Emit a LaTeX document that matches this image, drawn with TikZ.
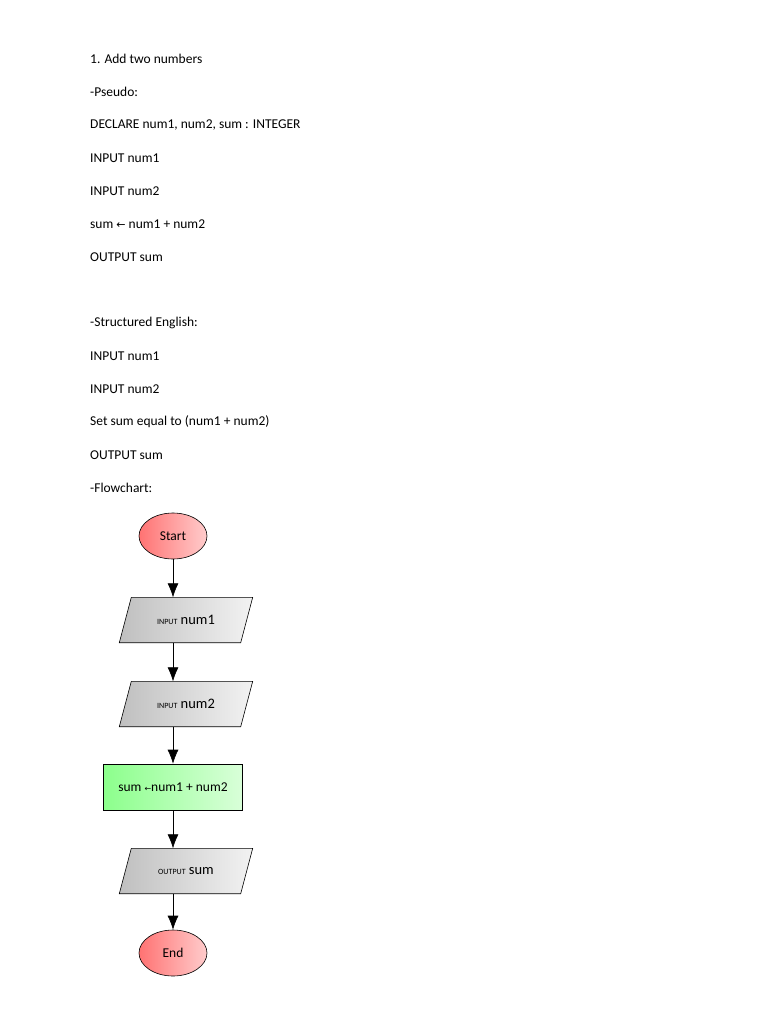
\documentclass[tikz,border=0pt]{standalone}
\usepackage{fontspec}
\setmainfont{Carlito}
\newfontfamily\symfont{DejaVu Sans}
\usetikzlibrary{shapes.geometric,positioning,arrows.meta}
\tikzset{
  line/.style={anchor=west,inner sep=0pt,font=\fontsize{13.5}{15}\selectfont},
  term/.style={ellipse,draw=black,semithick,minimum width=68,minimum height=46,left color=red!55,right color=red!20,font=\fontsize{13.5}{15}\selectfont},
  io/.style={minimum width=121,minimum height=45,inner sep=0pt,font=\fontsize{14.5}{16}\selectfont},
  proc/.style={draw=black,semithick,minimum width=139,minimum height=46,left color=green!45,right color=green!15,font=\fontsize{13.5}{15}\selectfont},
  flow/.style={-{Latex[length=14pt,width=11pt]},semithick}
}
\newcommand{\slantbox}[1]{%
  \path[draw=black,semithick,left color=black!25,right color=black!5]
    ([xshift=-6]#1.south west) -- ([xshift=-6]#1.south east) -- ([xshift=6]#1.north east) -- ([xshift=6]#1.north west) -- cycle;}
\newcommand{\sm}[1]{{\fontsize{8}{10}\selectfont #1}}
\begin{document}
\begin{tikzpicture}[x=1pt,y=-1pt]
\useasboundingbox (0,0) rectangle (768,1024);
% text part
\node[line] (t1) at (90,59) {1. Add two numbers};
\node[line] (t2) at (90,92) {-Pseudo:};
\node[line] (t3) at (90,125) {DECLARE num1, num2, sum : INTEGER};
\node[line] (t4) at (90,158) {INPUT num1};
\node[line] (t5) at (90,191) {INPUT num2};
\node[line] (t6) at (90,224) {sum {\symfont\fontsize{11}{13}\selectfont ←} num1 + num2};
\node[line] (t7) at (90,257) {OUTPUT sum};
\node[line] (t8) at (90,323) {-Structured English:};
\node[line] (t9) at (90,356) {INPUT num1};
\node[line] (t10) at (90,389) {INPUT num2};
\node[line] (t11) at (90,422) {Set sum equal to (num1 + num2)};
\node[line] (t12) at (90,455) {OUTPUT sum};
\node[line] (t13) at (90,488) {-Flowchart:};
% flowchart
\node[term] (start) at (173,536) {Start};
\node[io] (in1) at (186,620) {};
\slantbox{in1}
\node[io] at (in1) {\sm{INPUT} num1};
\node[io] (in2) at (186,704) {};
\slantbox{in2}
\node[io] at (in2) {\sm{INPUT} num2};
\node[proc] (calc) at (173,787) {sum {\symfont\fontsize{8}{10}\selectfont ←}num1 + num2};
\node[io] (out) at (186,871) {};
\slantbox{out}
\node[io] at (out) {\sm{OUTPUT} sum};
\node[term] (end) at (173,953) {End};
\draw[flow] (start) -- (start |- in1.north);
\draw[flow] (start |- in1.south) -- (start |- in2.north);
\draw[flow] (start |- in2.south) -- (calc);
\draw[flow] (calc) -- (calc |- out.north);
\draw[flow] (calc |- out.south) -- (end);
\end{tikzpicture}
\end{document}
